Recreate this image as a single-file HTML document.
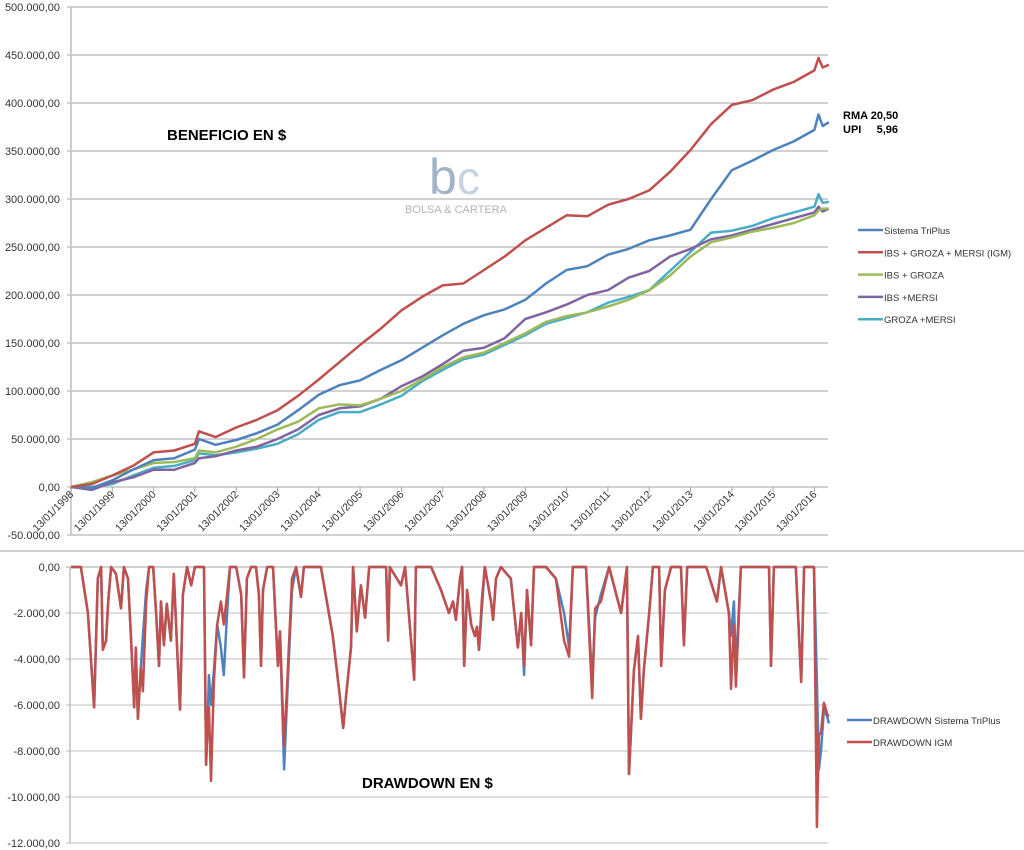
<!DOCTYPE html>
<html><head><meta charset="utf-8"><style>
html,body{margin:0;padding:0;background:#fff;}
svg{display:block;font-family:"Liberation Sans","DejaVu Sans",sans-serif;}
</style></head><body>
<svg id="chart" width="1024" height="850" viewBox="0 0 1024 850">
<g>
<text x="429" y="194" font-size="50" fill="#93a6bf" opacity="0.85">b</text>
<text x="457" y="194" font-size="46" fill="#c7d3e3">c</text>
<text x="456" y="213" font-size="11" fill="#b3b3b3" text-anchor="middle">BOLSA &amp; CARTERA</text>
</g>
<g id="gtop"></g>
<g id="gbot"></g>
<line x1="0" y1="551" x2="1024" y2="551" stroke="#a6a6a6" stroke-width="1"/>
<text x="167" y="140" font-size="15" font-weight="bold">BENEFICIO EN $</text>
<text x="362" y="788" font-size="15" font-weight="bold">DRAWDOWN EN $</text>
<text x="843" y="119" font-size="11" font-weight="bold">RMA 20,50</text>
<text x="843" y="133" font-size="11" font-weight="bold" xml:space="preserve">UPI     5,96</text>
</svg>
<script>
// ---- profit chart data (years since 13/01/1998, values in thousands $)
const tDates = [0,0.5,1,1.5,2,2.5,3,3.1,3.5,4,4.5,5,5.5,6,6.5,7,7.5,8,8.5,9,9.5,10,10.5,11,11.5,12,12.5,13,13.5,14,14.5,15,15.5,16,16.5,17,17.5,18,18.1,18.2,18.35];
const sTriPlus = [0,-1,7,18,28,30,39,50,44,49,56,65,80,96,106,111,122,132,145,158,170,179,185,195,212,226,230,242,248,257,262,268,300,330,340,351,360,372,388,376,380];
const sIGM = [0,3,12,22,36,38,45,58,52,62,70,80,95,112,130,148,165,184,198,210,212,226,240,257,270,283,282,294,300,309,328,351,378,398,403,414,422,434,447,437,440];
const sIbsGroza = [0,5,12,18,25,26,30,38,36,42,50,60,68,82,86,85,92,100,112,125,135,140,150,160,172,178,182,188,195,205,220,240,255,260,266,270,275,283,288,290,290];
const sIbsMersi = [0,-3,5,10,18,18,25,30,32,38,42,50,60,75,82,84,92,105,115,128,142,145,155,175,182,190,200,205,218,225,240,248,258,262,268,274,280,286,292,287,290];
const sGrozaMersi = [0,0,3,12,20,22,28,35,33,36,40,45,55,70,78,78,86,95,110,122,133,138,148,158,170,176,182,192,198,205,225,245,265,267,272,280,286,292,305,296,297];
const yTicksTop = [500,450,400,350,300,250,200,150,100,50,0,-50];
const yTickLabelsTop = ["500.000,00","450.000,00","400.000,00","350.000,00","300.000,00","250.000,00","200.000,00","150.000,00","100.000,00","50.000,00","0,00","-50.000,00"];
const xYears = ["13/01/1998","13/01/1999","13/01/2000","13/01/2001","13/01/2002","13/01/2003","13/01/2004","13/01/2005","13/01/2006","13/01/2007","13/01/2008","13/01/2009","13/01/2010","13/01/2011","13/01/2012","13/01/2013","13/01/2014","13/01/2015","13/01/2016"];
// ---- drawdown data (thousands $)
const ddDates = [0,0.24,0.41,0.56,0.65,0.73,0.77,0.85,0.90,0.97,1.09,1.21,1.28,1.38,1.45,1.53,1.57,1.62,1.69,1.74,1.82,1.89,1.99,2.06,2.13,2.18,2.25,2.32,2.42,2.49,2.57,2.64,2.71,2.81,2.91,3.00,3.22,3.27,3.32,3.34,3.39,3.46,3.54,3.63,3.70,3.78,3.85,4.00,4.12,4.19,4.26,4.36,4.48,4.55,4.60,4.65,4.75,4.89,5.01,5.06,5.16,5.25,5.35,5.45,5.57,5.64,6.05,6.34,6.49,6.59,6.66,6.78,6.83,6.92,7.02,7.12,7.22,7.63,7.68,7.72,7.99,8.09,8.31,8.35,8.72,8.96,9.15,9.25,9.32,9.42,9.47,9.52,9.59,9.69,9.78,9.83,9.88,9.95,10.02,10.17,10.22,10.29,10.41,10.65,10.82,10.90,10.97,11.04,11.14,11.21,11.50,11.74,11.94,12.06,12.15,12.47,12.62,12.69,12.83,13.03,13.32,13.46,13.51,13.63,13.73,13.80,13.87,14.00,14.09,14.24,14.29,14.38,14.53,14.77,14.84,14.92,15.38,15.64,15.74,15.93,15.98,16.05,16.10,16.22,16.90,16.95,17.02,17.55,17.68,17.75,17.99,18.06,18.11,18.16,18.23,18.31,18.35];
const ddIGM = [0,0,-2,-6.1,-0.5,0,-3.6,-3.2,-1.5,0,-0.3,-1.8,0,-0.5,-3,-6.1,-3.5,-6.6,-4.4,-5.4,-1.5,0,0,-2,-4.3,-1.5,-3.4,-1.6,-3.2,-0.3,-3.5,-6.2,-1.2,0,-0.8,0,0,-8.6,-6.1,-6.1,-9.3,-5,-2.5,-1.5,-2.5,-1.2,0,0,-1.2,-4.8,-0.5,0,0,-1.2,-4.3,-1,0,0,-4.3,-2.8,-7.8,-4.5,-0.5,0,-1.3,0,0,-3,-5.3,-7,-5.6,-3.5,0,-2.8,-0.8,-2.2,0,0,-3.2,0,-0.8,0,-4.9,0,0,-1,-2,-1.5,-2.3,-0.5,0,-4.3,-1,-2.5,-3,-2.6,-3.6,-1.4,0,-1.5,-2.3,-0.5,0,-0.5,-3.5,-2,-4.3,-1,-3.4,0,0,-0.5,-3.2,-3.9,0,0,-5.7,-1.8,-1.5,0,-2,0,-9,-4.5,-3,-6.6,-4.5,-2,0,0,-4.3,-1,0,0,-3.4,0,0,-1.5,0,-2,-5.3,-2.5,-5.2,0,0,-4.3,0,0,-5,0,0,-11.3,-7.3,-7.2,-5.9,-6.4,-6.5];
const ddTriPlus = [0,0,-2,-6.1,-0.5,0,-3.6,-3.2,-1.5,0,-0.3,-1.8,0,-0.5,-3,-6.1,-3.5,-6.6,-4.4,-3,-1,0,0,-2,-4.3,-1.5,-3.4,-1.6,-3.2,-0.3,-3.5,-6.2,-1.2,0,-0.8,0,0,-8.6,-6.1,-4.7,-6,-4.5,-2.5,-3.5,-4.7,-2,0,0,-1.2,-4.8,-0.5,0,0,-1.2,-4.3,-1,0,0,-4.3,-2.8,-8.8,-5,-1,0,-1.3,0,0,-3,-5.3,-7,-5.6,-3.5,0,-2.8,-0.8,-2.2,0,0,-3.2,0,-0.8,0,-4.9,0,0,-1,-2,-1.5,-2.3,-0.5,0,-4.3,-1,-2.5,-3,-2.6,-3.6,-1.8,0,-1.5,-2.3,-0.5,0,-0.5,-3.5,-2,-4.7,-1,-3.4,0,0,-0.5,-2,-3.5,0,0,-5,-2.2,-1.2,0,-2,0,-9,-4.5,-3,-6.6,-4.5,-2,0,0,-4.3,-1,0,0,-3.4,0,0,-1.5,0,-2,-3,-1.5,-4.5,0,0,-4.3,0,0,-5,0,0,-5,-8.8,-8.0,-6.2,-6.5,-6.8];
const yTicksBot = [0,-2,-4,-6,-8,-10,-12];
const yTickLabelsBot = ["0,00","-2.000,00","-4.000,00","-6.000,00","-8.000,00","-10.000,00","-12.000,00"];

const NS="http://www.w3.org/2000/svg";
const X0=71, XPY=41.3, XR=828;
function xs(t){return X0+t*XPY;}
function yTop(v){return 487-v*0.96;}
function yBot(v){return 567+v*(-23);}
function mk(tag,attrs,parent){const e=document.createElementNS(NS,tag);for(const k in attrs)e.setAttribute(k,attrs[k]);parent.appendChild(e);return e;}
const gTop=document.getElementById('gtop'), gBot=document.getElementById('gbot');

yTicksTop.forEach((v,i)=>{
  const y=yTop(v);
  const g=mk('line',{x1:67,x2:XR,y1:y,y2:y,stroke:'#a6a6a6','stroke-width':1},gTop);
  
  
  const t=mk('text',{x:60,y:y+4,'font-size':11,'text-anchor':'end',fill:'#333'},gTop);
  t.textContent=yTickLabelsTop[i];
  
  
});
const ax=mk('line',{x1:X0,x2:X0,y1:yTop(500),y2:yTop(-50),stroke:'#bfbfbf','stroke-width':1.5},gTop);


xYears.forEach((lab,i)=>{
  const x=xs(i);
  const tk=mk('line',{x1:x,x2:x,y1:487,y2:492,stroke:'#a6a6a6'},gTop);
  
  
  const t=mk('text',{x:x+3,y:495,'font-size':10.5,'text-anchor':'end',fill:'#333',transform:`rotate(-45 ${x+3} 495)`},gTop);
  t.textContent=lab;
  
  
});
function line(par,dates,vals,ys,color,name,w){
  const d=dates.map((t,i)=>(i?'L':'M')+xs(t).toFixed(1)+' '+ys(vals[i]).toFixed(1)).join(' ');
  const p=mk('path',{d:d,fill:'none',stroke:color,'stroke-width':w,'stroke-linejoin':'round'},par);
  
  
}
line(gTop,tDates,sGrozaMersi,yTop,'#4bacc6','series-groza-mersi',2.5);
line(gTop,tDates,sIbsMersi,yTop,'#8064a2','series-ibs-mersi',2.5);
line(gTop,tDates,sIbsGroza,yTop,'#9bbb59','series-ibs-groza',2.5);
line(gTop,tDates,sTriPlus,yTop,'#4f81bd','series-triplus',2.5);
line(gTop,tDates,sIGM,yTop,'#c0504d','series-igm',2.5);

yTicksBot.forEach((v,i)=>{
  const y=yBot(v);
  const g=mk('line',{x1:66,x2:XR,y1:y,y2:y,stroke:i==0?'#a6a6a6':'#bfbfbf','stroke-width':1},gBot);
  
  
  const t=mk('text',{x:60,y:y+4,'font-size':11,'text-anchor':'end',fill:'#333'},gBot);
  t.textContent=yTickLabelsBot[i];
  
  
});
const ax2=mk('line',{x1:70,x2:70,y1:yBot(0),y2:yBot(-12),stroke:'#bfbfbf','stroke-width':1.5},gBot);


line(gBot,ddDates,ddTriPlus,yBot,'#4f81bd','dd-triplus',2.5);
line(gBot,ddDates,ddIGM,yBot,'#c0504d','dd-igm',2.5);

const legTop=[['Sistema TriPlus','#4f81bd'],['IBS + GROZA + MERSI (IGM)','#c0504d'],['IBS + GROZA','#9bbb59'],['IBS +MERSI','#8064a2'],['GROZA +MERSI','#4bacc6']];
legTop.forEach((e,i)=>{
  const y=230+i*22.3;
  const g=mk('g',{},gTop);
  
  
  mk('line',{x1:858,x2:883,y1:y,y2:y,stroke:e[1],'stroke-width':2.5},g);
  const t=mk('text',{x:884,y:y+4,'font-size':9.5,fill:'#333'},g);
  t.textContent=e[0];
});
const legBot=[['DRAWDOWN Sistema TriPlus','#4f81bd'],['DRAWDOWN IGM','#c0504d']];
legBot.forEach((e,i)=>{
  const y=720+i*22;
  const g=mk('g',{},gBot);
  
  
  mk('line',{x1:847,x2:872,y1:y,y2:y,stroke:e[1],'stroke-width':2.5},g);
  const t=mk('text',{x:873,y:y+4,'font-size':9.5,fill:'#333'},g);
  t.textContent=e[0];
});
</script>
</body></html>
